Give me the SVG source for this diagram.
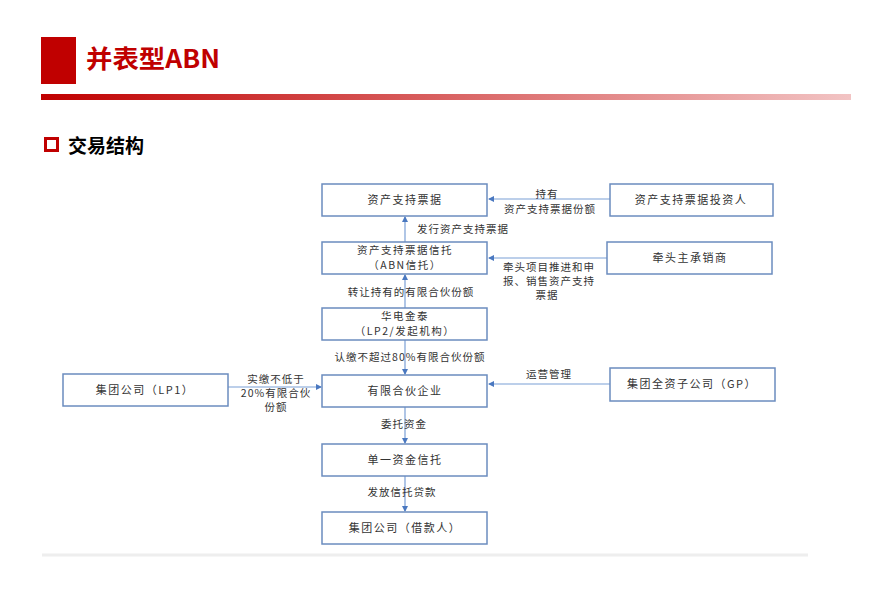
<svg xmlns="http://www.w3.org/2000/svg" width="895" height="612" viewBox="0 0 895 612">
<defs>
<linearGradient id="bar" x1="0" x2="1"><stop offset="0" stop-color="#c00000"/><stop offset="1" stop-color="#f2c4c4"/></linearGradient>
<marker id="ah" markerWidth="6" markerHeight="6" refX="5" refY="3" orient="auto" markerUnits="userSpaceOnUse"><path d="M0,0 L6,3 L0,6 z" fill="#4a78c0"/></marker>
<style>
.box{fill:#fff;stroke:#6b8cbf;stroke-width:1.5}
.t{font-family:"Noto Sans CJK SC","Liberation Serif",serif;font-size:11px;fill:#333;text-anchor:middle;letter-spacing:1.5px}
.t2{font-family:"Noto Sans CJK SC","Liberation Serif",serif;font-size:10.5px;fill:#333;text-anchor:middle;letter-spacing:1.5px}
.l{font-family:"Noto Sans CJK SC","Liberation Serif",serif;font-size:10.5px;fill:#333;text-anchor:middle;letter-spacing:1px}
.c{stroke:#7b9fd6;stroke-width:1.2;fill:none;marker-end:url(#ah)}
</style>
</defs>
<rect width="895" height="612" fill="#fff"/>
<rect x="41" y="37" width="35" height="47" fill="#c00000"/>
<text x="86" y="68" font-family="Noto Sans CJK SC, sans-serif" font-size="25" font-weight="bold" fill="#c00000" textLength="134" lengthAdjust="spacingAndGlyphs">并表型ABN</text>
<rect x="41" y="94" width="810" height="6" fill="url(#bar)"/>
<rect x="45.5" y="138.5" width="12" height="12" fill="none" stroke="#c00000" stroke-width="3"/>
<text x="68" y="153" font-family="Noto Sans CJK SC, sans-serif" font-size="19" font-weight="bold" fill="#000">交易结构</text>
<line x1="42" y1="555" x2="808" y2="555" stroke="#eeeeee" stroke-width="3"/>
<g id="connectors">
<path class="c" d="M405,242 V217"/>
<path class="c" d="M405,308 V275"/>
<path class="c" d="M405,340 V374"/>
<path class="c" d="M405,407 V443"/>
<path class="c" d="M405,476 V511"/>
<path class="c" d="M610,199 H489"/>
<path class="c" d="M607,258 H489"/>
<path class="c" d="M610,384 H489"/>
<path class="c" d="M228,387 H321"/>
<text class="l" x="547" y="198">持有</text>
<text class="l" x="550" y="213">资产支持票据份额</text>
<text class="l" x="463" y="233">发行资产支持票据</text>
<text class="l" x="549" y="271">牵头项目推进和申</text>
<text class="l" x="549" y="285">报、销售资产支持</text>
<text class="l" x="547" y="299">票据</text>
<text class="l" x="411" y="296">转让持有的有限合伙份额</text>
<text class="l" x="410" y="361">认缴不超过80%有限合伙份额</text>
<text class="l" x="549" y="378">运营管理</text>
<text class="l" x="276" y="383">实缴不低于</text>
<text class="l" x="276" y="397">20%有限合伙</text>
<text class="l" x="276" y="411">份额</text>
<text class="l" x="404" y="428">委托资金</text>
<text class="l" x="402" y="496">发放信托贷款</text>
</g>
<g id="n1"><rect class="box" x="322" y="184" width="165" height="32"/><text class="t" x="405" y="204">资产支持票据</text></g>
<g id="n2"><rect class="box" x="610" y="184" width="163" height="32"/><text class="t" x="691" y="204">资产支持票据投资人</text></g>
<g id="n3"><rect class="box" x="322" y="242" width="165" height="32"/><text class="t2" x="405" y="254">资产支持票据信托</text><text class="t2" x="405" y="269">（ABN信托）</text></g>
<g id="n4"><rect class="box" x="607" y="242" width="165" height="32"/><text class="t" x="690" y="262">牵头主承销商</text></g>
<g id="n5"><rect class="box" x="322" y="308" width="165" height="32"/><text class="t2" x="405" y="320">华电金泰</text><text class="t2" x="405" y="335">（LP2/发起机构）</text></g>
<g id="n6"><rect class="box" x="322" y="375" width="165" height="32"/><text class="t" x="405" y="395">有限合伙企业</text></g>
<g id="n7"><rect class="box" x="63" y="374" width="165" height="32"/><text class="t" x="145" y="394">集团公司（LP1）</text></g>
<g id="n8"><rect class="box" x="610" y="368" width="165" height="33"/><text class="t" x="692" y="388">集团全资子公司（GP）</text></g>
<g id="n9"><rect class="box" x="322" y="444" width="165" height="32"/><text class="t" x="405" y="464">单一资金信托</text></g>
<g id="n10"><rect class="box" x="322" y="512" width="165" height="32"/><text class="t" x="405" y="532">集团公司（借款人）</text></g>
</svg>
